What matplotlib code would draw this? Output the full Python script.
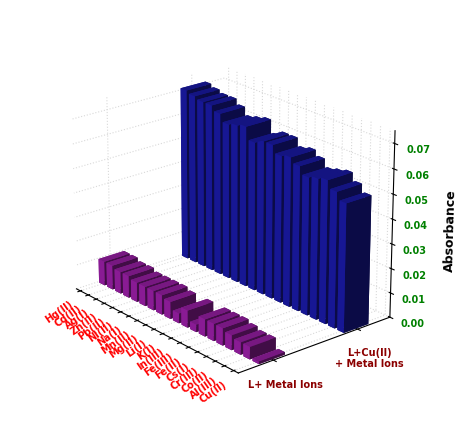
import matplotlib
matplotlib.use("Agg")
import matplotlib.pyplot as plt
import numpy as np

ions = ["Hg(II)","Cd(II)","Ag(I)","Zn(II)","Pb(II)","Ni(II)","Na(I)","Mn(II)","Mg(II)","Li(I)",
        "K(I)","In(III)","Fe(III)","Fe(II)","Cs(I)","Cr(III)","Co(II)","Al(III)","Cu(II)"]
rows = ["L+ Metal Ions", "L+Cu(II)\n+ Metal Ions"]
l_metal = [0.010,0.010,0.009,0.009,0.008,0.008,0.008,0.008,0.007,0.004,
           0.007,0.003,0.007,0.007,0.007,0.006,0.005,0.005,0.001]
l_cu_metal = [0.071,0.070,0.069,0.069,0.067,0.064,0.065,0.066,0.061,0.063,
              0.063,0.060,0.061,0.059,0.056,0.057,0.058,0.055,0.052]

fig = plt.figure(figsize=(4.74,4.36), dpi=100)
ax = fig.add_axes([0.0,0.0,0.95,1.0], projection='3d')
n = len(ions)
x = np.arange(n)
for j,(vals,col) in enumerate([(l_metal,'#9b1fa8'),(l_cu_metal,'#1a1aa8')]):
    ax.bar3d(x-0.35, np.full(n, j)-0.15, np.zeros(n), 0.7, 0.3, vals, color=col, shade=True, edgecolor='none')
ax.set_xticks(x)
ax.set_xticklabels(ions, color='red', fontsize=7, fontweight='bold', rotation=35, ha='right', va='top')
ax.set_yticks([0,1])
ax.set_yticklabels(rows, fontsize=7, fontweight='bold', color='#8b0000')
ax.set_xlim(-0.5, n-0.5)
ax.set_ylim(-0.4, 1.4)
ax.set_zlim(0,0.075)
ax.set_zticks(np.arange(0,0.071,0.01))
ax.set_zticklabels([f"{v:.2f}" for v in np.arange(0,0.071,0.01)], color='green', fontsize=7, fontweight='bold')
ax.set_zlabel("Absorbance", fontsize=9, fontweight='bold', labelpad=8)
ax.set_box_aspect((1.3, 1.0, 1.0), zoom=0.85)
ax.view_init(elev=22, azim=-40)
ax.tick_params(axis='x', pad=-2)
for a in (ax.xaxis, ax.yaxis, ax.zaxis):
    a.set_pane_color((1,1,1,0))
    a._axinfo['grid']['color'] = (0.85,0.85,0.85,1)
    a._axinfo['grid']['linestyle'] = ':'
fig.savefig("out.png", dpi=100)
